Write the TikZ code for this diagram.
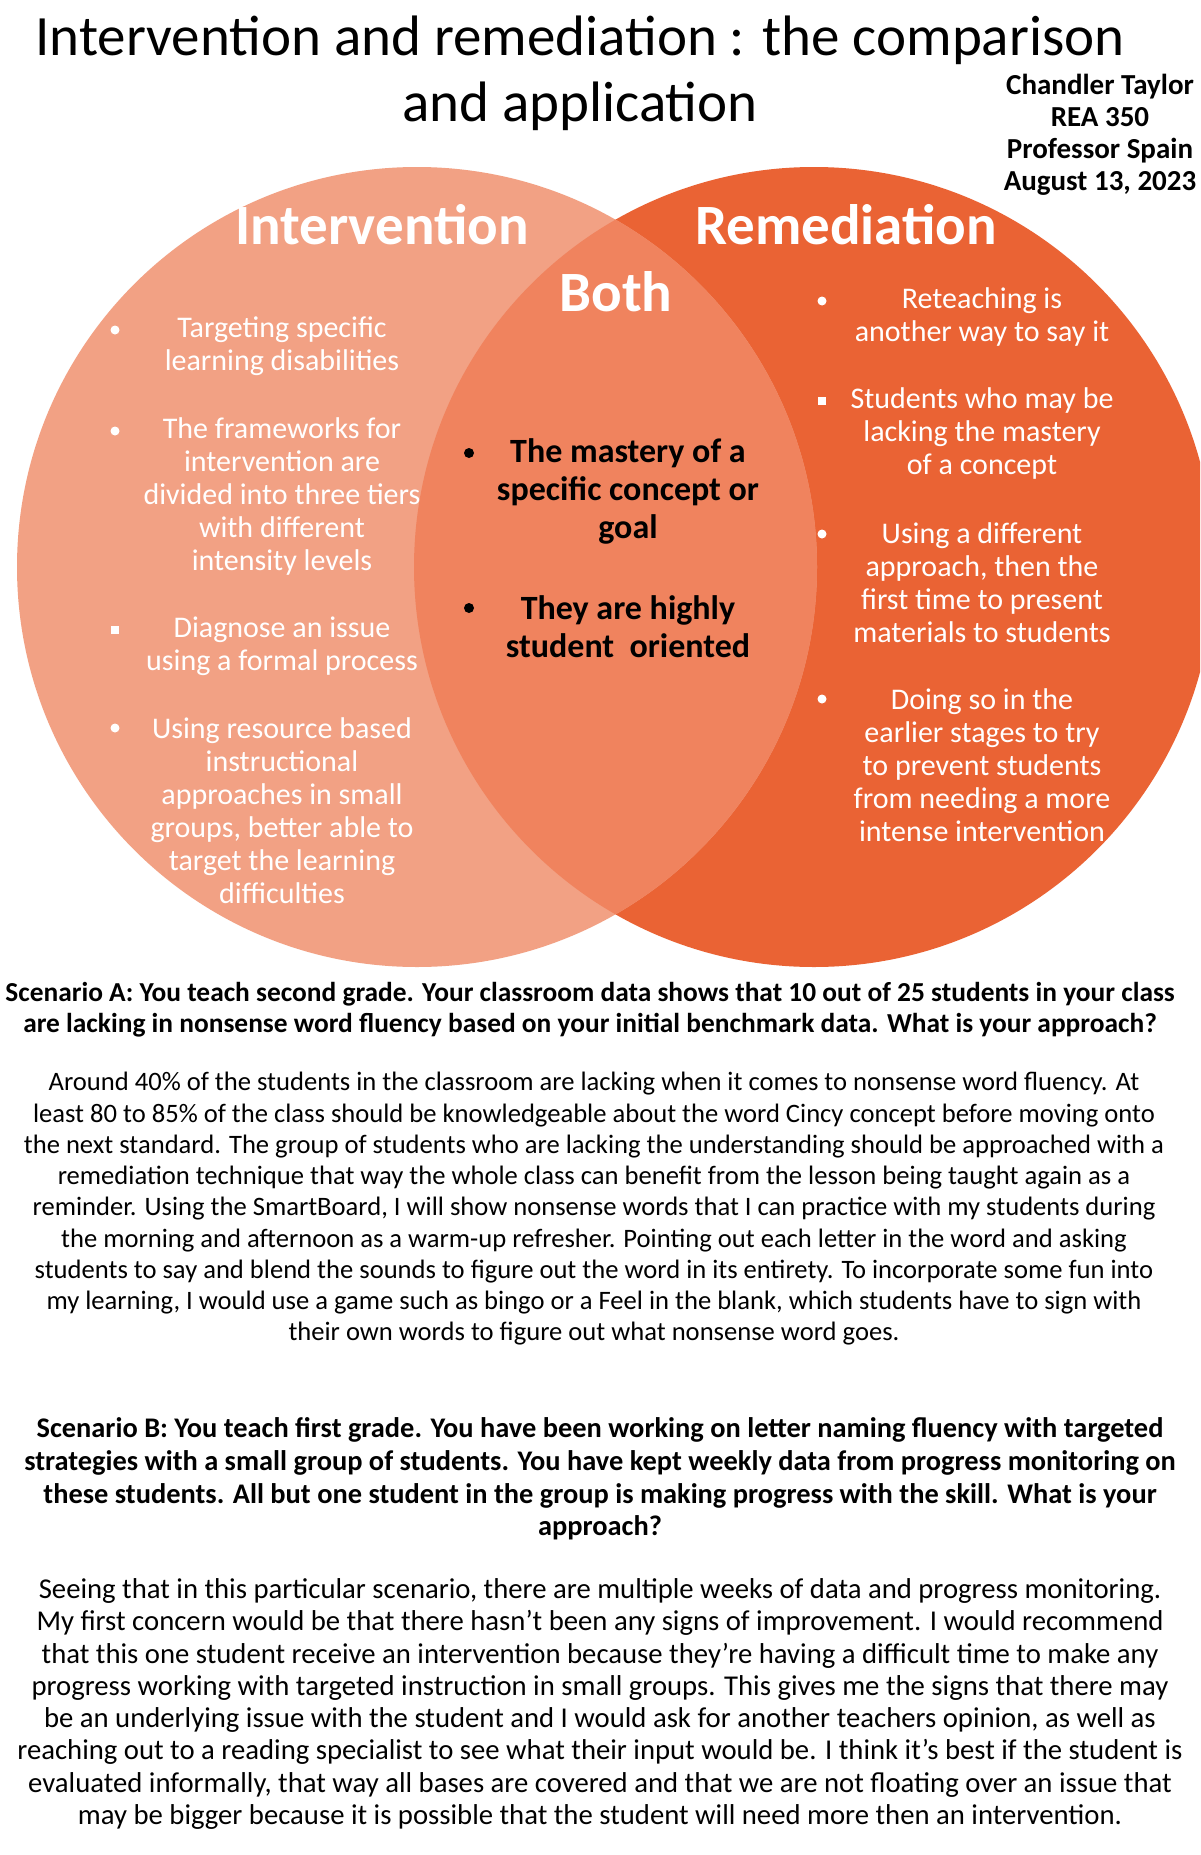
\documentclass[tikz,border=0pt]{standalone}
\usepackage{fontspec}
\setmainfont{Carlito}
\definecolor{leftc}{RGB}{242,161,132}
\definecolor{rightc}{RGB}{234,99,52}
\definecolor{bothc}{RGB}{240,131,94}
\tikzset{
  ctext/.style={align=center,inner sep=0pt,text=white,font=\fontsize{30}{33}\selectfont},
  btext/.style={align=center,inner sep=0pt,text=black,font=\bfseries\fontsize{34}{38}\selectfont},
  head/.style={inner sep=0pt,text=white,font=\bfseries\fontsize{57}{60}\selectfont},
  body/.style={align=center,inner sep=0pt,text=black,font=\fontsize{26.6}{31.25}\selectfont},
  qtext/.style={align=center,inner sep=0pt,text=black,font=\bfseries\fontsize{27.4}{31}\selectfont},
  dotw/.style={fill=white},
  dotb/.style={fill=black},
}
\begin{document}
\begin{tikzpicture}[x=1pt,y=-1pt]
\useasboundingbox (0,0) rectangle (1200,1855);
\clip (0,0) rectangle (1200,1855);
\fill[white] (0,0) rectangle (1200,1855);
% circles
\fill[rightc] (814,567) circle (400);
\fill[leftc] (417,567) circle (400);
\begin{scope}
  \clip (417,567) circle (400);
  \fill[bothc] (814,567) circle (400);
\end{scope}
% title
\node[align=center,inner sep=0pt,font=\fontsize{57}{66}\selectfont] (title) at (580,73) {Intervention and remediation : the comparison\\and application};
\node[align=center,inner sep=0pt,font=\bfseries\fontsize{29}{32}\selectfont] (author) at (1100,135) {Chandler Taylor\\REA 350\\Professor Spain\\August 13, 2023};
% headings
\node[head] (hI) at (382,225) {Intervention};
\node[head] (hR) at (846,225) {Remediation};
\node[head] (hB) at (616,292) {Both};
% left items
\node[ctext] (l1) at (282,346.5) {Targeting specific\\learning disabilities};
\node[ctext] (l2) at (282,496.5) {The frameworks for\\intervention are\\divided into three tiers\\with different\\intensity levels};
\node[ctext] (l3) at (282,646.5) {Diagnose an issue\\using a formal process};
\node[ctext] (l4) at (282,810.5) {Using resource based\\instructional\\approaches in small\\groups, better able to\\target the learning\\difficulties};
\fill[dotw] (115,330) circle (4.5);
\fill[dotw] (115,431) circle (4.5);
\fill[dotw] (111,626) rectangle (119,634);
\fill[dotw] (115,728) circle (4.5);
% both items
\node[btext] (b1) at (628,491.5) {The mastery of a\\specific concept or\\goal};
\node[btext] (b2) at (628,626.5) {They are highly\\student\ \ oriented};
\fill[dotb] (469,453) circle (5);
\fill[dotb] (469,608) circle (5);
% right items
\node[ctext] (r1) at (982,317) {Reteaching is\\another way to say it};
\node[ctext] (r2) at (982,433.5) {Students who may be\\lacking the mastery\\of a concept};
\node[ctext] (r3) at (982,583) {Using a different\\approach, then the\\first time to present\\materials to students};
\node[ctext] (r4) at (982,765) {Doing so in the\\earlier stages to try\\to prevent students\\from needing a more\\intense intervention};
\fill[dotw] (822,301) circle (4.5);
\fill[dotw] (818,397) rectangle (826,405);
\fill[dotw] (822,534) circle (4.5);
\fill[dotw] (822,699) circle (4.5);
% scenario A
\node[qtext] (qa) at (590,1009.5) {Scenario A: You teach second grade. Your classroom data shows that 10 out of 25 students in your class\\are lacking in nonsense word fluency based on your initial benchmark data. What is your approach?};
\node[body] (pa) at (594,1209) {Around 40\% of the students in the classroom are lacking when it comes to nonsense word fluency. At\\least 80 to 85\% of the class should be knowledgeable about the word Cincy concept before moving onto\\the next standard. The group of students who are lacking the understanding should be approached with a\\remediation technique that way the whole class can benefit from the lesson being taught again as a\\reminder. Using the SmartBoard, I will show nonsense words that I can practice with my students during\\the morning and afternoon as a warm-up refresher. Pointing out each letter in the word and asking\\students to say and blend the sounds to figure out the word in its entirety. To incorporate some fun into\\my learning, I would use a game such as bingo or a Feel in the blank, which students have to sign with\\their own words to figure out what nonsense word goes.};
% scenario B
\node[qtext,font=\bfseries\fontsize{28.4}{32.7}\selectfont] (qb) at (600,1479) {Scenario B: You teach first grade. You have been working on letter naming fluency with targeted\\strategies with a small group of students. You have kept weekly data from progress monitoring on\\these students. All but one student in the group is making progress with the skill. What is your\\approach?};
\node[body,font=\fontsize{28.7}{32.3}\selectfont] (pb) at (600,1704) {Seeing that in this particular scenario, there are multiple weeks of data and progress monitoring.\\My first concern would be that there hasn’t been any signs of improvement. I would recommend\\that this one student receive an intervention because they’re having a difficult time to make any\\progress working with targeted instruction in small groups. This gives me the signs that there may\\be an underlying issue with the student and I would ask for another teachers opinion, as well as\\reaching out to a reading specialist to see what their input would be. I think it’s best if the student is\\evaluated informally, that way all bases are covered and that we are not floating over an issue that\\may be bigger because it is possible that the student will need more then an intervention.};
\end{tikzpicture}
\end{document}
